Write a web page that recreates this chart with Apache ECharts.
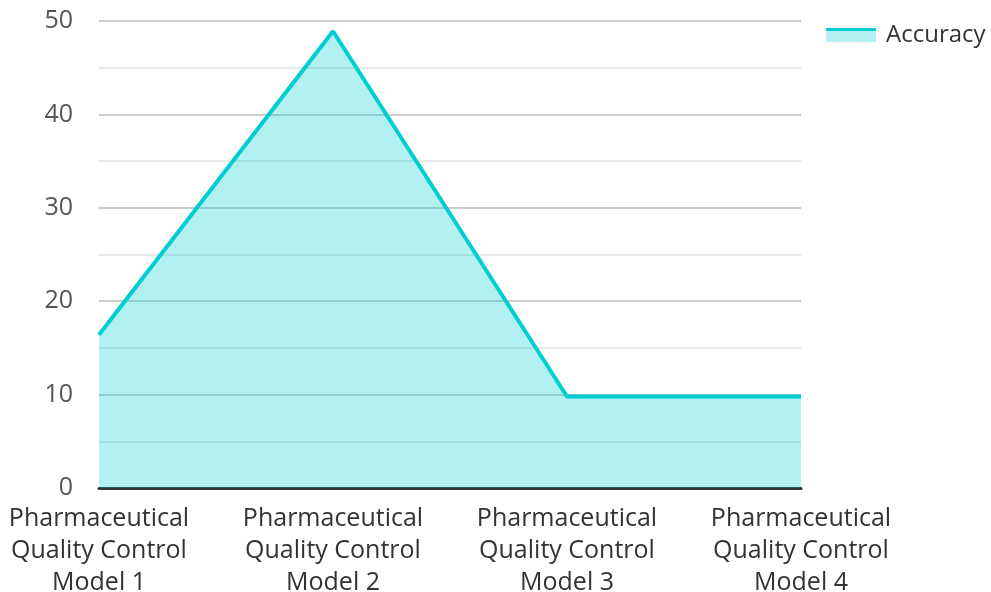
<!DOCTYPE html>
<html>
<head>
<meta charset="utf-8">
<script src="https://cdn.jsdelivr.net/npm/echarts@6/dist/echarts.min.js"></script>
<style>
  html, body { margin: 0; padding: 0; background: #fff; }
  #chart { width: 991px; height: 592px; }
</style>
</head>
<body>
<div id="chart"></div>
<script>
// Model names along the x axis
const categories = [
  'Pharmaceutical\nQuality Control\nModel 1',
  'Pharmaceutical\nQuality Control\nModel 2',
  'Pharmaceutical\nQuality Control\nModel 3',
  'Pharmaceutical\nQuality Control\nModel 4'
];
// Accuracy per model
const accuracy = [16.4, 48.9, 9.8, 9.8];
const seriesName = 'Accuracy';

const lineColor = '#00CED1';
const fillColor = 'rgba(0, 206, 209, 0.3)';
const fontFamily = '"Open Sans", "Noto Sans", sans-serif';

const chart = echarts.init(document.getElementById('chart'), null, { renderer: 'canvas' });
chart.setOption({
  animation: false,
  textStyle: { fontFamily },
  grid: {
    left: 99, right: 190, top: 21, bottom: 104,
    containLabel: false,
    outerBoundsMode: 'none'
  },
  legend: {
    data: [seriesName],
    left: 826,
    top: 23,
    padding: 0,
    itemWidth: 50,
    itemHeight: 14,
    icon: 'rect',
    itemStyle: {
      color: {
        type: 'linear', x: 0, y: 0, x2: 0, y2: 1,
        colorStops: [
          { offset: 0, color: lineColor },
          { offset: 0.24, color: lineColor },
          { offset: 0.24, color: '#B3F0F1' },
          { offset: 1, color: '#B3F0F1' }
        ]
      },
      borderWidth: 0
    },
    lineStyle: { opacity: 0 },
    textStyle: { fontSize: 24, color: '#333', fontFamily, padding: [0, 0, 0, 5] }
  },
  xAxis: {
    type: 'category',
    data: categories,
    boundaryGap: false,
    axisLine: { show: true, lineStyle: { color: '#333', width: 3 } },
    axisTick: { show: false },
    axisLabel: {
      interval: 0,
      margin: 15,
      fontSize: 25,
      lineHeight: 32,
      color: '#333',
      fontFamily
    },
    splitLine: { show: false }
  },
  yAxis: {
    type: 'value',
    min: 0,
    max: 50,
    interval: 10,
    axisLine: { show: false },
    axisTick: { show: false },
    axisLabel: { margin: 26, fontSize: 25, color: '#555', fontFamily },
    splitLine: { show: true, lineStyle: { color: '#cccccc', width: 2 } },
    minorTick: { show: false, splitNumber: 2 },
    minorSplitLine: { show: true, lineStyle: { color: '#e8e8e8', width: 2 } }
  },
  series: [{
    name: seriesName,
    type: 'line',
    data: accuracy,
    showSymbol: false,
    symbol: 'none',
    lineStyle: { color: lineColor, width: 4 },
    itemStyle: { color: lineColor },
    areaStyle: { color: fillColor, opacity: 1, origin: 'start' },
    z: 1
  }]
});
</script>
</body>
</html>
